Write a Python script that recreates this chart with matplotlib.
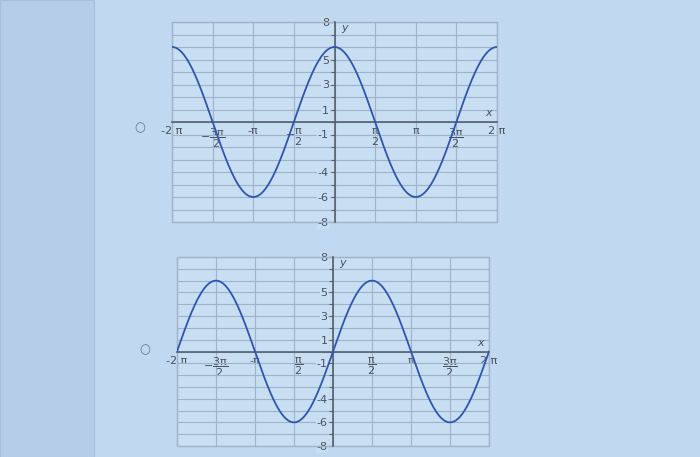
import numpy as np
import matplotlib.pyplot as plt
from matplotlib.patches import Rectangle
from matplotlib.ticker import FixedLocator, FixedFormatter

# graph options: y = 6 cos x (top), y = 6 sin x (bottom)
amplitude = 6
x_ticks = [k * np.pi / 2 for k in range(-4, 5)]
x_labels = ['-2 π', r'$-\dfrac{3\pi}{2}$', '-π', r'$-\dfrac{\pi}{2}$', '',
            r'$\dfrac{\pi}{2}$', 'π', r'$\dfrac{3\pi}{2}$', '2 π']
y_ticks = list(range(-8, 9))
y_labelled = [8, 5, 3, 1, -1, -4, -6, -8]

page_bg = '#c0d8f0'
strip_bg = '#b6cde7'
plot_bg = '#c8def3'
grid_col = '#9fb2c8'
axis_col = '#56606c'
curve_col = '#2f55b0'
text_col = '#4a525c'

plt.rcParams['font.family'] = ['DejaVu Sans']
plt.rcParams['mathtext.fontset'] = 'dejavusans'
plt.rcParams['mathtext.default'] = 'regular'

fig = plt.figure(figsize=(7, 4.57), dpi=100, facecolor=page_bg)
fig.add_artist(Rectangle((0, 0), 94 / 700, 1, transform=fig.transFigure,
                         facecolor=strip_bg, edgecolor='#a8bdd6', lw=0.8,
                         zorder=-1))


def draw_option(rect, func, radio_xy):
    ax = fig.add_axes(rect)
    ax.set_facecolor(plot_bg)
    xs = np.linspace(-2 * np.pi, 2 * np.pi, 600)
    ax.plot(xs, amplitude * func(xs), color=curve_col, lw=1.3, zorder=3)
    ax.set_xlim(-2 * np.pi, 2 * np.pi)
    ax.set_ylim(-8, 8)

    ax.spines['left'].set_position('zero')
    ax.spines['bottom'].set_position('zero')
    for s in ['left', 'bottom']:
        ax.spines[s].set_color(axis_col)
        ax.spines[s].set_linewidth(1.2)
        ax.spines[s].set_zorder(2)
    for s in ['top', 'right']:
        ax.spines[s].set_visible(False)
    ax.add_patch(Rectangle((0, 0), 1, 1, transform=ax.transAxes, fill=False,
                           edgecolor=grid_col, lw=1.0, clip_on=False, zorder=1))

    ax.xaxis.set_major_locator(FixedLocator(x_ticks))
    ax.xaxis.set_major_formatter(FixedFormatter(x_labels))
    ax.yaxis.set_major_locator(FixedLocator(y_ticks))
    ax.yaxis.set_major_formatter(FixedFormatter(
        [str(v) if v in y_labelled else '' for v in y_ticks]))
    ax.tick_params(axis='y', direction='out', length=3, width=0.8,
                   color=axis_col, labelsize=8, labelcolor=text_col, pad=1)
    ax.tick_params(axis='x', direction='out', length=0,
                   labelsize=8, labelcolor=text_col, pad=3)
    for lbl in ax.get_yticklabels():
        lbl.set_bbox(dict(facecolor=plot_bg, edgecolor='none', pad=0.5))
    ax.grid(True, color=grid_col, lw=0.8)
    ax.set_axisbelow(True)

    ax.text(2 * np.pi - 0.2, 0.3, 'x', fontsize=8, color=text_col,
            ha='right', va='bottom', style='italic')
    ax.text(0.25, 7.9, 'y', fontsize=8, color=text_col,
            ha='left', va='top', style='italic')
    fig.text(radio_xy[0], radio_xy[1], '○', fontsize=9, color='#6e7680',
             ha='center', va='center')
    return ax


draw_option([172 / 700, 1 - 222 / 457, 325 / 700, 200 / 457], np.cos,
            (140 / 700, 1 - 128 / 457))
draw_option([177 / 700, 1 - 446 / 457, 312 / 700, 189 / 457], np.sin,
            (145 / 700, 1 - 350 / 457))

fig.savefig('out.png', dpi=100, facecolor=page_bg)
